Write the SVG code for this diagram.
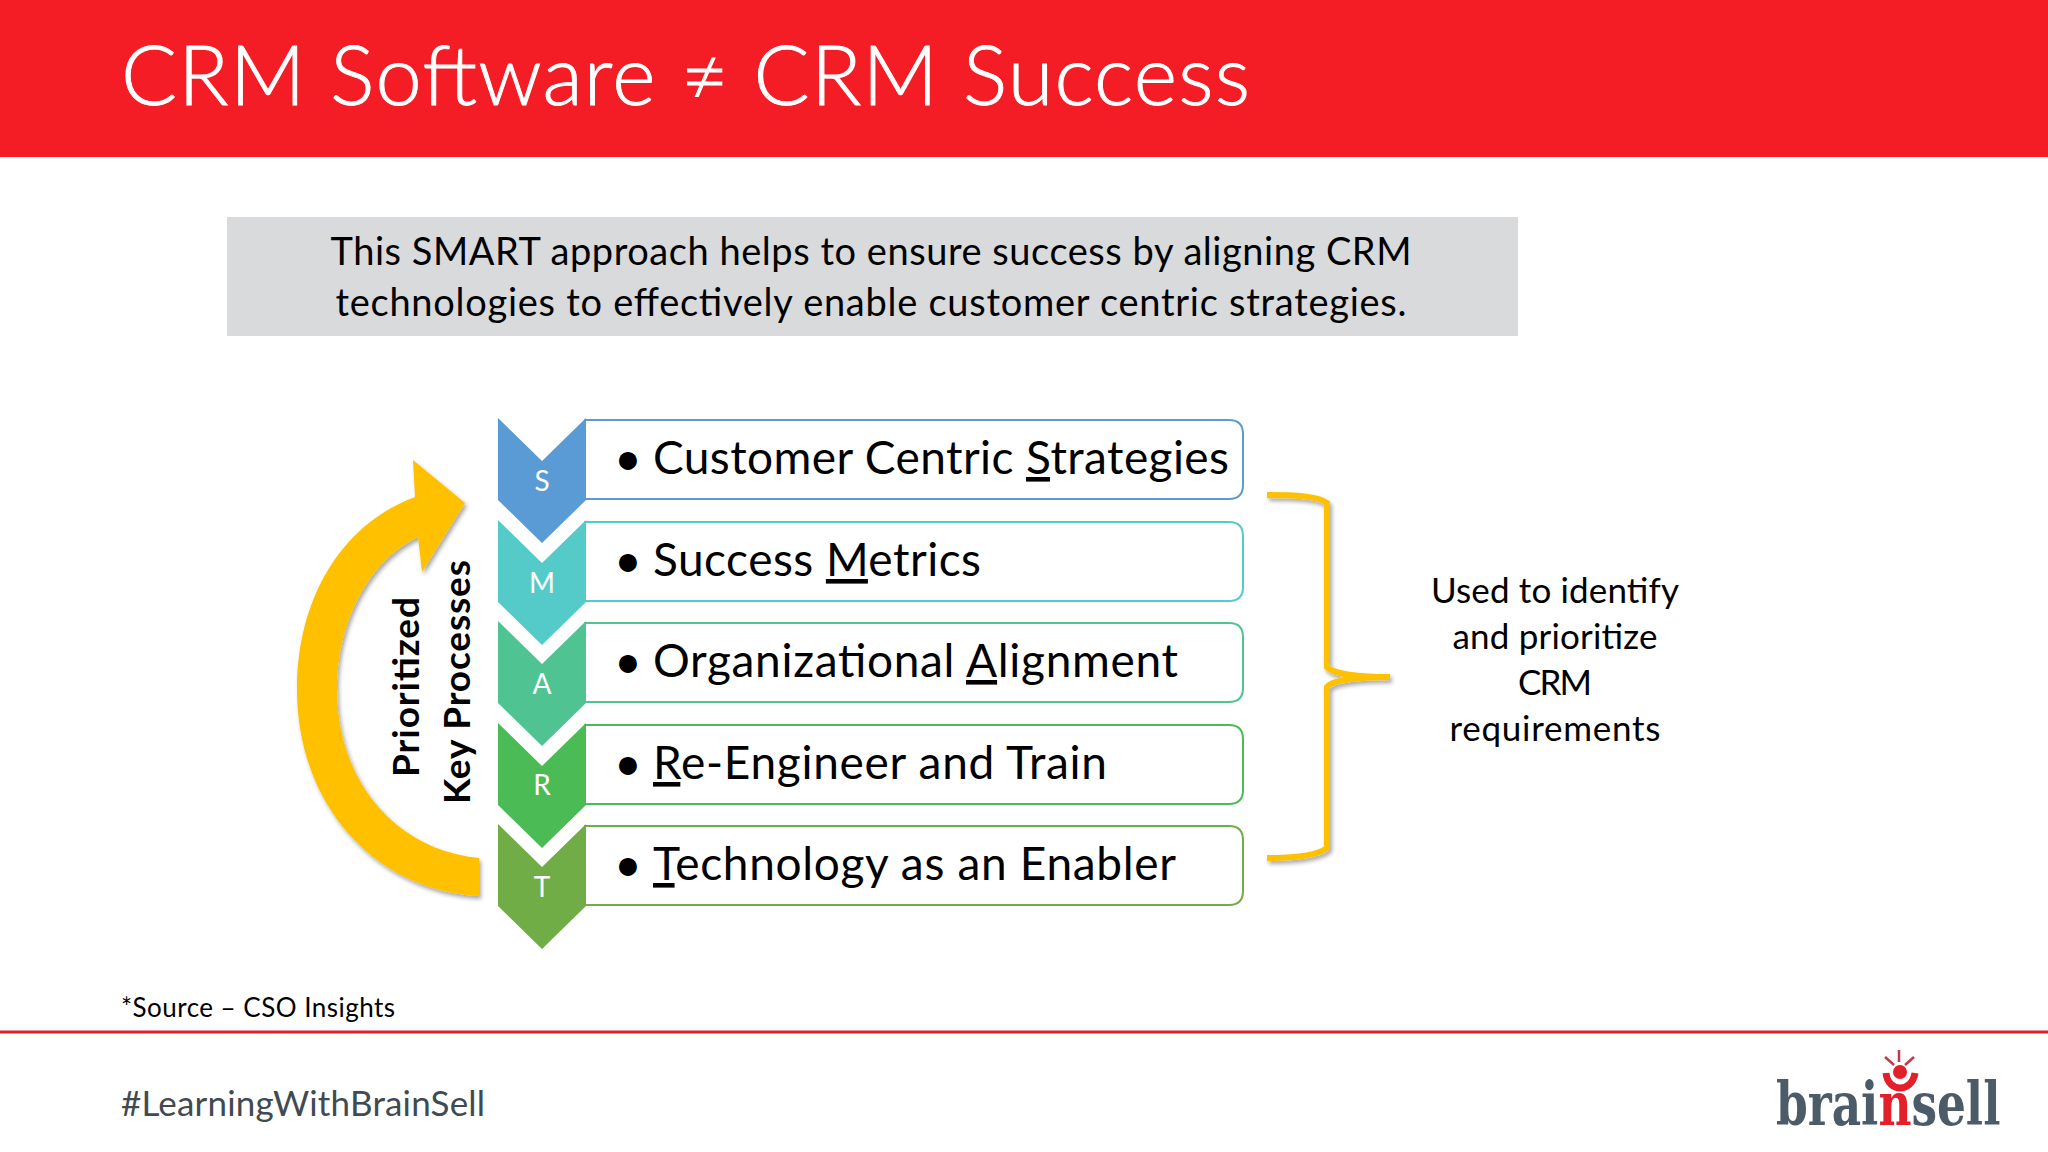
<svg xmlns="http://www.w3.org/2000/svg" width="2048" height="1152" viewBox="0 0 2048 1152">
<defs>
<filter id="sh" x="-10%" y="-10%" width="125%" height="125%"><feDropShadow dx="2" dy="3" stdDeviation="2" flood-color="#000" flood-opacity="0.35"/></filter>
<path id="chev" d="M0 0L44 43L88 0V82L44 125L0 82Z"/>
<path id="card" d="M0 0H644Q658 0 658 14V65Q658 79 644 79H0Z"/>
</defs>
<style>
text{font-family:Lato,"Open Sans",Arial,sans-serif;fill:#000}
.item{font-size:46px}
.bul{font-size:48px}
.let{font-size:28px;fill:#fff;text-anchor:middle}
.side{font-size:35px;text-anchor:middle}
.card{fill:#fff;stroke-width:2}
.u{text-decoration:underline}
</style>
<rect width="2048" height="1152" fill="#fff"/>
<g id="header"><rect width="2048" height="157" fill="#f51d25"/>
<text x="121" y="105" font-size="83" font-weight="300" style="fill:#fff;stroke:#fff;stroke-width:.9" textLength="1129">CRM Software ≠ CRM Success</text></g>
<g id="intro"><rect x="227" y="217" width="1291" height="119" fill="#d9dadc"/>
<text x="871" y="265" font-size="38" text-anchor="middle" textLength="1081">This SMART approach helps to ensure success by aligning CRM</text>
<text x="871" y="316" font-size="38" text-anchor="middle" textLength="1071">technologies to effectively enable customer centric strategies.</text></g>
<g id="arrow"><path filter="url(#sh)" fill="#ffc000" d="M479 858C395 850 337 780 337 690C337 620 370 560 418 537L422 572L465 503L413 460L415 497C340 525 297 600 297 690C297 800 370 890 479 896Z"/></g>
<g id="arrow-label">
<text transform="translate(419 687) rotate(-90)" text-anchor="middle" font-weight="700" font-size="37" textLength="180">Prioritized</text>
<text transform="translate(470 682) rotate(-90)" text-anchor="middle" font-weight="700" font-size="37" textLength="244">Key Processes</text></g>
<g id="step-s"><use href="#card" x="585" y="420" class="card" stroke="#5b9bd5"/><use href="#chev" x="498" y="418" fill="#5b9bd5"/><text class="let" x="542" y="491">S</text>
<text class="bul" x="614" y="475">•</text><text class="item" x="653" y="474" textLength="576">Customer Centric <tspan class="u">S</tspan>trategies</text></g>
<g id="step-m"><use href="#card" x="585" y="522" class="card" stroke="#55cbc9"/><use href="#chev" x="498" y="520" fill="#55cbc9"/><text class="let" x="542" y="593">M</text>
<text class="bul" x="614" y="577">•</text><text class="item" x="653" y="576" textLength="328">Success <tspan class="u">M</tspan>etrics</text></g>
<g id="step-a"><use href="#card" x="585" y="623" class="card" stroke="#4fc492"/><use href="#chev" x="498" y="621" fill="#4fc492"/><text class="let" x="542" y="694">A</text>
<text class="bul" x="614" y="678">•</text><text class="item" x="653" y="677" textLength="525">Organizational <tspan class="u">A</tspan>lignment</text></g>
<g id="step-r"><use href="#card" x="585" y="725" class="card" stroke="#4abb55"/><use href="#chev" x="498" y="723" fill="#4abb55"/><text class="let" x="542" y="795">R</text>
<text class="bul" x="614" y="780">•</text><text class="item" x="653" y="779" textLength="454"><tspan class="u">R</tspan>e-Engineer and Train</text></g>
<g id="step-t"><use href="#card" x="585" y="826" class="card" stroke="#70ad47"/><use href="#chev" x="498" y="824" fill="#70ad47"/><text class="let" x="542" y="897">T</text>
<text class="bul" x="614" y="881">•</text><text class="item" x="653" y="880" textLength="523"><tspan class="u">T</tspan>echnology as an Enabler</text></g>
<g id="connectors"><path filter="url(#sh)" fill="none" stroke="#ffc000" stroke-width="6" d="M1267 495C1295 495 1318 496 1327 503V667C1332 674 1360 677 1390 677C1360 677 1332 680 1327 687V848C1318 855 1295 858 1267 858"/></g>
<g id="side-note">
<text class="side" x="1555" y="603" textLength="248">Used to identify</text>
<text class="side" x="1555" y="649" textLength="205">and prioritize</text>
<text class="side" x="1555" y="695" textLength="74">CRM</text>
<text class="side" x="1555" y="741" textLength="211">requirements</text></g>
<g id="source"><text x="121" y="1017" font-size="26" textLength="274">*Source – CSO Insights</text></g>
<rect id="rule" y="1030.500" width="2048" height="3" fill="#e3202a"/>
<g id="footer"><text x="121" y="1116" font-size="35" style="fill:#404a52" textLength="364">#LearningWithBrainSell</text></g>
<g id="logo">
<g stroke="#c8354d" stroke-width="2.500" fill="none"><path d="M1899 1050V1062M1885 1057L1894 1065M1914 1057L1905 1065"/></g>
<circle cx="1900" cy="1072" r="7" fill="#e3202a"/>
<path d="M1886 1073C1888 1093 1912 1093 1915 1073" fill="none" stroke="#e3202a" stroke-width="7"/>
<text transform="translate(1776 1125) scale(.77 1)" font-size="59" font-weight="700" style="font-family:'DejaVu Serif',serif;fill:#4b5b68">brai<tspan style="fill:#e3202a">n</tspan>sell</text></g>
</svg>
